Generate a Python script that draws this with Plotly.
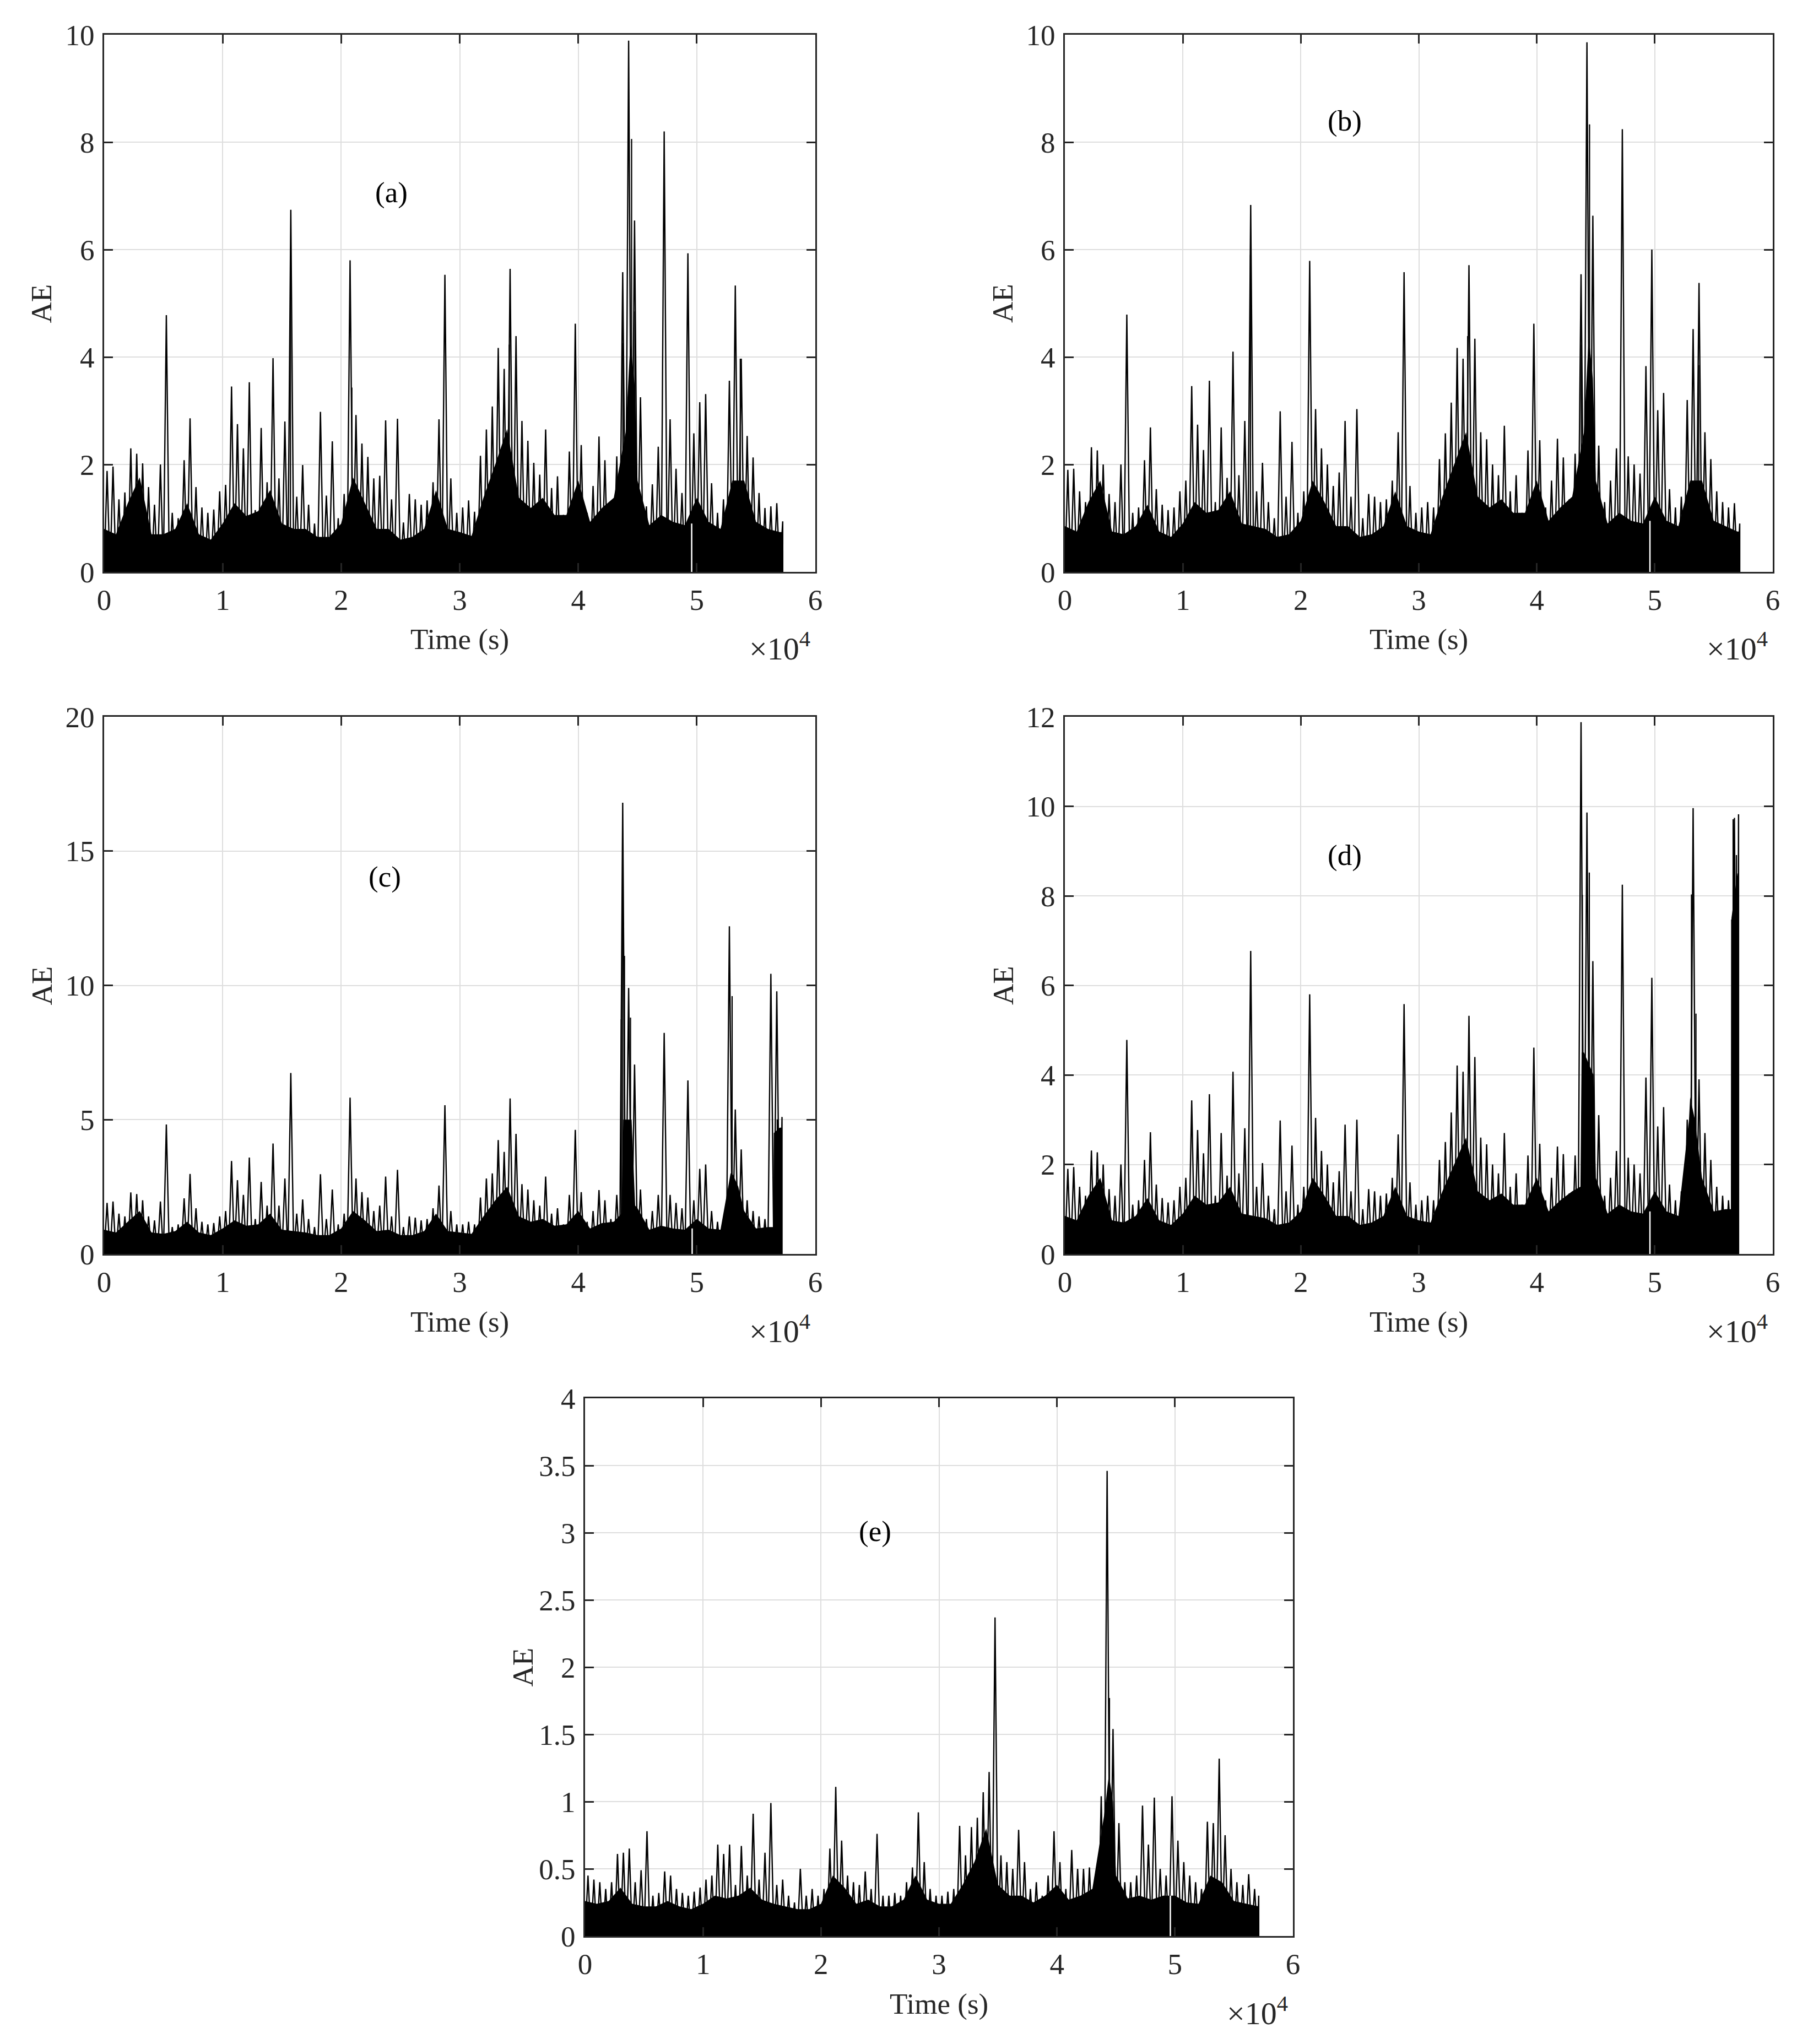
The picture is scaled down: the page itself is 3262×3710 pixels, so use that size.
import plotly.graph_objects as go

# ---------------- data ----------------
BIN = 500  # s, width of one envelope bin
FLOOR_STEP = 1000  # s, spacing of floor (dense band) samples

# upper envelope of AE per 500 s bin, t = 0, 500, ..., 57000
a_env = [1.88, 1.96, 1.35, 1.48, 2.30, 2.20, 2.02, 1.58, 1.25, 2.00,
         4.78, 1.10, 1.00, 2.08, 2.86, 1.58, 1.20, 1.10, 1.16, 1.50,
         1.62, 3.45, 2.75, 2.30, 3.53, 1.15, 2.68, 1.67, 3.98, 1.74,
         2.80, 6.74, 1.40, 1.99, 1.25, 0.90, 2.98, 1.42, 2.43, 1.00,
         1.45, 5.80, 2.92, 2.39, 2.14, 1.74, 1.79, 2.82, 1.35, 2.85,
         0.92, 1.45, 1.35, 1.25, 1.33, 1.67, 2.84, 5.53, 1.74, 1.10,
         1.20, 1.33, 1.12, 2.16, 2.65, 3.08, 4.17, 3.78, 5.64, 4.39,
         2.81, 2.44, 2.03, 1.81, 2.65, 1.56, 1.78, 1.06, 2.24, 4.62,
         2.36, 1.10, 1.60, 2.52, 2.08, 1.31, 2.15, 5.58, 9.89, 6.54,
         3.25, 1.22, 1.63, 2.33, 8.20, 2.84, 1.92, 1.47, 5.93, 2.58,
         3.16, 3.31, 1.65, 1.10, 1.35, 3.56, 5.33, 3.97, 2.53, 2.13,
         1.47, 1.19, 1.22, 1.28, 0.94]
b_env = [1.90, 1.92, 1.50, 1.30, 2.32, 2.26, 2.00, 1.45, 1.30, 2.00,
         4.79, 1.10, 1.20, 2.08, 2.69, 1.54, 1.25, 1.15, 1.20, 1.50,
         1.70, 3.46, 2.74, 2.27, 3.56, 1.30, 2.69, 1.75, 4.10, 1.80,
         2.81, 6.83, 1.50, 2.03, 1.30, 1.00, 2.99, 1.40, 2.42, 1.10,
         1.50, 5.79, 3.03, 2.30, 2.00, 1.60, 1.85, 2.81, 1.40, 3.03,
         1.00, 1.45, 1.40, 1.30, 1.35, 1.70, 2.60, 5.58, 1.60, 1.10,
         1.20, 1.30, 1.20, 2.10, 2.58, 3.15, 4.17, 3.97, 5.71, 4.34,
         2.60, 2.47, 2.00, 1.80, 2.72, 1.50, 1.80, 1.10, 2.26, 4.62,
         2.45, 1.20, 1.70, 2.48, 2.13, 1.35, 2.20, 5.54, 9.86, 6.63,
         2.35, 1.30, 1.70, 2.30, 8.24, 2.15, 2.00, 1.83, 3.83, 6.00,
         3.01, 3.33, 1.54, 1.20, 1.40, 3.20, 4.52, 5.38, 2.60, 2.10,
         1.50, 1.30, 1.20, 1.28, 0.90]
c_env = [1.90, 1.95, 1.50, 1.40, 2.29, 2.23, 2.00, 1.40, 1.25, 1.95,
         4.82, 1.00, 1.10, 2.07, 2.98, 1.70, 1.20, 1.10, 1.15, 1.40,
         1.60, 3.46, 2.75, 2.20, 3.59, 1.30, 2.68, 1.80, 4.11, 1.80,
         2.81, 6.74, 1.50, 2.03, 1.30, 1.00, 2.97, 1.30, 2.40, 1.10,
         1.50, 5.82, 2.81, 2.30, 2.10, 1.60, 1.80, 2.88, 1.40, 3.13,
         1.00, 1.40, 1.35, 1.25, 1.30, 1.70, 2.55, 5.54, 1.60, 1.10,
         1.10, 1.20, 1.10, 2.10, 2.81, 3.00, 4.24, 3.80, 5.79, 4.47,
         2.60, 2.40, 2.00, 1.80, 2.88, 1.50, 1.70, 1.10, 2.20, 4.62,
         2.30, 1.20, 1.60, 2.38, 2.00, 1.30, 2.20, 16.80, 9.90, 7.05,
         2.40, 1.30, 1.60, 2.20, 8.23, 2.20, 1.90, 1.70, 6.46, 2.00,
         3.17, 3.33, 1.60, 1.20, 1.30, 12.20, 5.38, 3.89, 2.00, 1.60,
         1.40, 1.30, 10.43, 9.78, 5.10]
d_env = [1.90, 1.94, 1.50, 1.30, 2.31, 2.27, 2.00, 1.45, 1.30, 2.00,
         4.78, 1.10, 1.20, 2.10, 2.72, 1.55, 1.25, 1.15, 1.20, 1.50,
         1.70, 3.43, 2.77, 2.25, 3.57, 1.30, 2.70, 1.75, 4.07, 1.80,
         2.81, 6.77, 1.50, 2.03, 1.30, 1.00, 2.98, 1.40, 2.42, 1.10,
         1.50, 5.80, 3.04, 2.30, 2.00, 1.60, 1.85, 2.89, 1.40, 3.00,
         1.00, 1.45, 1.40, 1.30, 1.35, 1.70, 2.67, 5.58, 1.60, 1.10,
         1.20, 1.30, 1.20, 2.10, 2.50, 3.16, 4.21, 4.07, 5.32, 4.40,
         2.60, 2.45, 2.00, 1.80, 2.70, 1.50, 1.80, 1.10, 2.20, 4.61,
         2.46, 1.20, 1.70, 2.40, 2.23, 1.35, 2.20, 11.88, 9.86, 6.54,
         3.10, 1.30, 1.70, 2.30, 8.25, 2.15, 2.00, 1.80, 3.94, 6.17,
         2.85, 3.28, 1.55, 1.20, 1.40, 3.00, 9.96, 3.90, 2.70, 2.10,
         1.50, 1.30, 1.20, 9.74, 9.82]
e_env = [0.45, 0.42, 0.40, 0.35, 0.40, 0.61, 0.62, 0.65, 0.40, 0.49,
         0.78, 0.30, 0.32, 0.48, 0.45, 0.35, 0.32, 0.30, 0.33, 0.36,
         0.42, 0.45, 0.68, 0.61, 0.68, 0.38, 0.67, 0.45, 0.91, 0.42,
         0.62, 0.99, 0.38, 0.42, 0.30, 0.25, 0.50, 0.30, 0.35, 0.30,
         0.35, 0.65, 1.11, 0.71, 0.45, 0.40, 0.38, 0.48, 0.35, 0.76,
         0.30, 0.30, 0.32, 0.30, 0.40, 0.51, 0.92, 0.55, 0.35, 0.30,
         0.30, 0.33, 0.35, 0.82, 0.60, 0.81, 0.88, 1.07, 1.22, 2.37,
         0.60, 0.55, 0.50, 0.79, 0.55, 0.35, 0.40, 0.30, 0.45, 0.78,
         0.55, 0.35, 0.64, 0.50, 0.50, 0.51, 0.45, 1.04, 3.46, 1.54,
         0.84, 0.40, 0.40, 0.45, 0.97, 0.68, 1.03, 0.50, 0.45, 1.04,
         0.71, 0.55, 0.45, 0.40, 0.35, 0.85, 0.84, 1.32, 0.75, 0.50,
         0.40, 0.38, 0.46, 0.35, 0.30]

# top of the dense (mostly black) band, t = 0, 1000, ..., 57000
a_floor = [0.80, 0.70, 1.28, 1.76, 0.70, 0.70, 0.80, 1.28, 0.70, 0.60,
           0.90, 1.28, 1.04, 1.13, 1.52, 0.90, 0.80, 0.80, 0.65, 0.65,
           0.90, 1.76, 1.28, 0.80, 0.80, 0.60, 0.65, 0.80, 1.52, 0.80,
           0.74, 0.67, 1.38, 2.00, 2.66, 1.38, 1.19, 1.38, 1.06, 1.06,
           1.70, 0.93, 1.19, 1.38, 2.60, 1.70, 0.87, 1.06, 0.93, 0.87,
           1.38, 0.93, 0.80, 1.70, 1.70, 0.93, 0.80, 0.74]
b_floor = [0.85, 0.75, 1.30, 1.70, 0.75, 0.70, 0.85, 1.25, 0.75, 0.65,
           0.90, 1.30, 1.10, 1.15, 1.50, 0.90, 0.85, 0.80, 0.65, 0.70,
           0.95, 1.70, 1.30, 0.85, 0.85, 0.65, 0.70, 0.85, 1.50, 0.85,
           0.75, 0.70, 1.40, 2.00, 2.60, 1.40, 1.20, 1.35, 1.10, 1.10,
           1.70, 0.95, 1.20, 1.40, 2.60, 1.70, 0.90, 1.10, 0.95, 0.90,
           1.40, 0.95, 0.85, 1.70, 1.70, 0.95, 0.85, 0.75]
c_floor = [0.90, 0.80, 1.20, 1.60, 0.80, 0.75, 0.85, 1.20, 0.80, 0.70,
           0.95, 1.25, 1.05, 1.10, 1.50, 0.90, 0.85, 0.80, 0.70, 0.70,
           0.95, 1.60, 1.25, 0.85, 0.90, 0.70, 0.70, 0.85, 1.50, 0.85,
           0.80, 0.75, 1.40, 2.00, 2.50, 1.40, 1.20, 1.30, 1.05, 1.10,
           1.60, 0.95, 1.15, 1.20, 5.00, 1.70, 0.90, 1.05, 0.95, 0.90,
           1.30, 0.95, 0.90, 3.00, 1.60, 0.95, 1.00, 4.70]
d_floor = [0.85, 0.75, 1.30, 1.70, 0.75, 0.70, 0.85, 1.25, 0.75, 0.65,
           0.90, 1.30, 1.10, 1.15, 1.50, 0.90, 0.85, 0.80, 0.65, 0.70,
           0.95, 1.70, 1.30, 0.85, 0.85, 0.65, 0.70, 0.85, 1.50, 0.85,
           0.75, 0.70, 1.40, 2.00, 2.60, 1.40, 1.20, 1.35, 1.10, 1.10,
           1.70, 0.95, 1.20, 1.40, 4.50, 1.70, 0.90, 1.10, 0.95, 0.90,
           1.40, 0.95, 0.85, 3.50, 1.70, 0.95, 1.00, 8.50]
e_floor = [0.26, 0.24, 0.26, 0.36, 0.24, 0.22, 0.22, 0.26, 0.22, 0.20,
           0.24, 0.30, 0.28, 0.30, 0.36, 0.27, 0.24, 0.22, 0.20, 0.20,
           0.24, 0.45, 0.36, 0.24, 0.27, 0.22, 0.22, 0.27, 0.45, 0.27,
           0.24, 0.24, 0.38, 0.55, 0.80, 0.38, 0.30, 0.30, 0.25, 0.30,
           0.38, 0.27, 0.30, 0.35, 0.90, 0.45, 0.28, 0.30, 0.27, 0.30,
           0.30, 0.25, 0.24, 0.45, 0.40, 0.26, 0.24, 0.22]

# extra band points where the band changes abruptly (time s, AE)
a_fx_t = [44400, 44750]
a_fx_v = [4.30, 3.50]
b_fx_t = [44400, 44750]
b_fx_v = [4.40, 3.60]
c_fx_t = [43650, 43800, 44500, 44800, 52850, 53500, 56450, 56500]
c_fx_v = [1.50, 5.00, 5.00, 1.80, 3.00, 2.50, 1.00, 4.50]
d_fx_t = [43700, 43800, 44800, 52900, 53400, 56450, 56500]
d_fx_v = [1.50, 4.50, 4.00, 3.00, 3.00, 1.00, 7.50]
e_fx_t = [44400, 44750]
e_fx_v = [1.20, 1.00]

# additional tall spikes (time s, AE)
a_sp_t = [15720, 20900, 34180, 43770, 44500, 44780, 53670]
a_sp_v = [5.88, 3.43, 4.23, 4.26, 8.06, 4.85, 3.97]
b_sp_t = [15730, 34140, 43770, 44470, 53720]
b_sp_v = [5.90, 4.39, 4.23, 8.33, 3.85]
c_sp_t = [43630, 43750, 43900, 44410, 52980, 56790]
c_sp_v = [8.74, 13.07, 11.10, 8.80, 9.60, 5.01]
d_sp_t = [43860, 44450, 53110, 53490, 56520, 56640, 56920]
d_sp_v = [8.02, 8.52, 8.03, 5.37, 7.47, 9.71, 8.91]
e_sp_t = [44450]
e_sp_v = [1.77]

# drop-out (AE = 0) moment near 4.96e4 s and the band height around it
gap_t = [49570, 49590, 49610, 49590, 49610]
gap_v = [0.90, 0.95, 0.95, 0.95, 0.30]

# last sample time of each record (s)
a_end, b_end, c_end, d_end, e_end = 57250, 57200, 57190, 57100, 57100

x_tick_vals = [0, 10000, 20000, 30000, 40000, 50000, 60000]
x_tick_text = ["0", "1", "2", "3", "4", "5", "6"]
panel_names = ["(a)", "(b)", "(c)", "(d)", "(e)"]
y_max = [10, 10, 20, 12, 4]
y_dtick = [2, 2, 5, 2, 0.5]
label_pos = [(24250, 7.06), (23740, 8.4), (23700, 14.05), (23740, 8.9), (24570, 3.01)]

# ---------------- layout geometry (paper fractions) ----------------
W, H = 3262, 3710
col_left = [189 / W, 1480 / W]
col_right = [1933 / W, 3218 / W]
col_mid = [1062 / W, 2347 / W]
row1 = [1 - 1038 / H, 1 - 63 / H]
row2 = [1 - 2276 / H, 1 - 1301 / H]
row3 = [1 - 3514 / H, 1 - 2538 / H]
domains = [(col_left, row1), (col_right, row1), (col_left, row2),
           (col_right, row2), (col_mid, row3)]

FONT = "Liberation Serif"
INK = "#262626"
FS = 53


def sawtooth(env, end):
    xs, ys = [], []
    for i, v in enumerate(env):
        t0 = i * BIN
        xs += [t0, min(t0 + BIN / 2, end)]
        ys += [0, v]
    xs.append(end)
    ys.append(0)
    return xs, ys


def band_xy(floor, ext_t, ext_v, end):
    pts = [(i * FLOOR_STEP, v) for i, v in enumerate(floor)]
    pts += list(zip(ext_t, ext_v))
    pts.sort()
    pts.append((end, pts[-1][1]))
    return [p[0] for p in pts], [p[1] for p in pts]


def sticks(ts, vs):
    xs, ys = [], []
    for t, v in zip(ts, vs):
        xs += [t, t, None]
        ys += [0, v, None]
    return xs, ys


envs = [a_env, b_env, c_env, d_env, e_env]
floors = [a_floor, b_floor, c_floor, d_floor, e_floor]
fx_t = [a_fx_t, b_fx_t, c_fx_t, d_fx_t, e_fx_t]
fx_v = [a_fx_v, b_fx_v, c_fx_v, d_fx_v, e_fx_v]
sp_t = [a_sp_t, b_sp_t, c_sp_t, d_sp_t, e_sp_t]
sp_v = [a_sp_v, b_sp_v, c_sp_v, d_sp_v, e_sp_v]
ends = [a_end, b_end, c_end, d_end, e_end]

fig = go.Figure()
annotations = []
layout_axes = {}
for k in range(5):
    n = "" if k == 0 else str(k + 1)
    xa, ya = "x" + n, "y" + n
    bx, by = band_xy(floors[k], fx_t[k], fx_v[k], ends[k])
    fig.add_trace(go.Scatter(x=bx, y=by, xaxis=xa, yaxis=ya, mode="lines",
                             line=dict(width=0, color="black"), fill="tozeroy",
                             fillcolor="black", hoverinfo="skip", showlegend=False))
    sx, sy = sawtooth(envs[k], ends[k])
    fig.add_trace(go.Scatter(x=sx, y=sy, xaxis=xa, yaxis=ya, mode="lines",
                             line=dict(width=2.4, color="black"),
                             hoverinfo="skip", showlegend=False))
    kx, ky = sticks(sp_t[k], sp_v[k])
    fig.add_trace(go.Scatter(x=kx, y=ky, xaxis=xa, yaxis=ya, mode="lines",
                             line=dict(width=2.2, color="black"),
                             hoverinfo="skip", showlegend=False))
    gx, gy = sticks([gap_t[k]], [gap_v[k]])
    fig.add_trace(go.Scatter(x=gx, y=gy, xaxis=xa, yaxis=ya, mode="lines",
                             line=dict(width=2.5, color="white"),
                             hoverinfo="skip", showlegend=False))
    dx, dy = domains[k]
    common = dict(showline=True, linewidth=3, linecolor=INK, mirror="ticks",
                  ticks="inside", ticklen=16, tickwidth=3, tickcolor=INK,
                  showgrid=True, gridcolor="#dedede", gridwidth=2,
                  zeroline=False, automargin=False,
                  tickfont=dict(family=FONT, size=FS, color=INK))
    layout_axes["xaxis" + n] = dict(domain=dx, anchor=ya, range=[0, 60000],
                                    tickvals=x_tick_vals, ticktext=x_tick_text,
                                    ticklabelstandoff=2, **common)
    layout_axes["yaxis" + n] = dict(domain=dy, anchor=xa, range=[0, y_max[k]],
                                    dtick=y_dtick[k], tick0=0,
                                    ticklabelstandoff=4, **common)
    dref_x, dref_y = xa + " domain", ya + " domain"
    annotations.append(dict(text="Time (s)", xref=dref_x, yref=dref_y, x=0.5,
                            y=-123 / 975, xanchor="center", yanchor="middle",
                            showarrow=False, font=dict(family=FONT, size=FS, color=INK)))
    annotations.append(dict(text="AE", xref=dref_x, yref=dref_y, x=-113 / 1290,
                            y=0.5, textangle=-90, xanchor="center", yanchor="middle",
                            showarrow=False, font=dict(family=FONT, size=FS, color=INK)))
    annotations.append(dict(text="×10<sup>4</sup>", xref=dref_x, yref=dref_y,
                            x=1 - 7 / 1290, y=-136 / 975, xanchor="right", yanchor="middle",
                            showarrow=False, font=dict(family=FONT, size=58, color=INK)))
    lx, ly = label_pos[k]
    annotations.append(dict(text=panel_names[k], xref=xa, yref=ya, x=lx, y=ly,
                            xanchor="center", yanchor="middle", showarrow=False,
                            font=dict(family=FONT, size=FS, color="black")))

fig.update_layout(width=W, height=H,
                  margin=dict(l=0, r=0, t=0, b=0, pad=0, autoexpand=False),
                  paper_bgcolor="white", plot_bgcolor="white",
                  annotations=annotations, **layout_axes)
fig.write_html("out.html", config={"displayModeBar": False},
               post_script="document.body.style.margin='0';")
